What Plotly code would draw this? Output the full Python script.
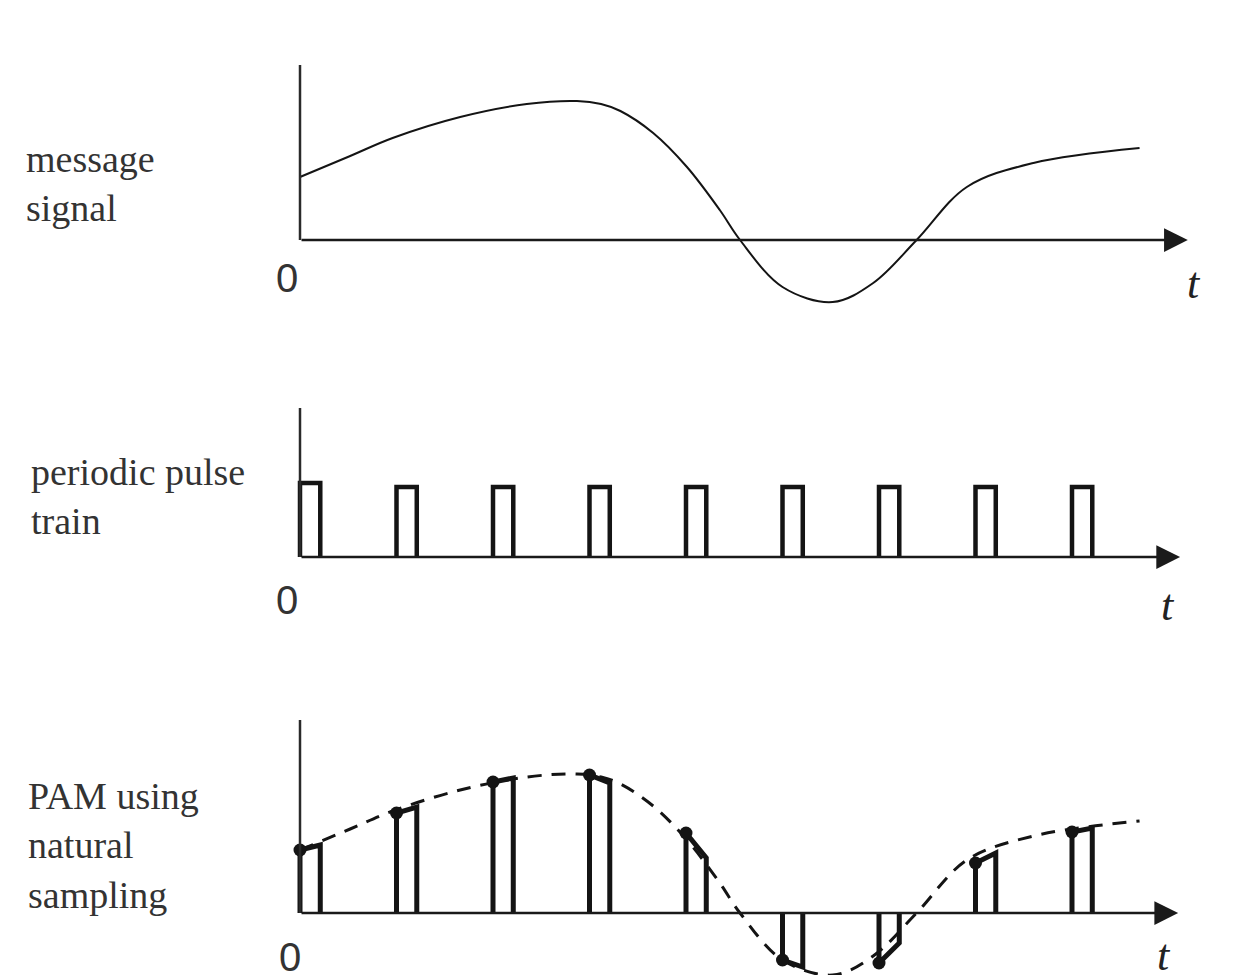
import plotly.graph_objects as go

# ---------------- data (time in pulse periods, amplitude in arbitrary units) ----------------
t_msg = [0.00, 0.52, 0.96, 1.66, 2.35, 2.87, 3.12, 3.32, 3.66, 4.01, 4.35, 4.56, 5.00, 5.52, 5.94, 6.39, 6.91, 7.60, 8.70]
m_msg = [0.63, 0.84, 1.02, 1.23, 1.36, 1.39, 1.36, 1.29, 1.07, 0.73, 0.30, 0.00, -0.47, -0.62, -0.43, 0.00, 0.53, 0.77, 0.92]

pulse_starts = [0, 1, 2, 3, 4, 5, 6, 7, 8]
pulse_width = 0.21
pulse_heights = [0.74, 0.70, 0.70, 0.70, 0.70, 0.70, 0.70, 0.70, 0.70]

pam_top_start = [0.63, 1.00, 1.31, 1.38, 0.80, -0.47, -0.50, 0.50, 0.81]
pam_top_end = [0.68, 1.06, 1.35, 1.30, 0.55, -0.54, -0.30, 0.60, 0.85]

panel_labels = ["message<br>signal", "periodic pulse<br>train", "PAM using<br>natural<br>sampling"]
origin_label = "0"
time_label = "t"

# page offset (browser body margin) compensation
OFF = 8
W, H = 1240, 975
X0 = 300 - OFF          # pixel of t = 0 inside the figure
PPU = 96.5              # pixels per pulse period


def py_(page_y):
    """paper y for a page pixel row"""
    return 1 - (page_y - OFF) / H


def px_(page_x):
    return (page_x - OFF) / W


INK = "#141414"
fig = go.Figure()

# message signal
fig.add_trace(go.Scatter(x=t_msg, y=m_msg, mode="lines", line=dict(color=INK, width=2, shape="spline", smoothing=1.0),
                         xaxis="x", yaxis="y", hoverinfo="skip"))

# periodic pulse train
px, pyv = [], []
for s, h in zip(pulse_starts, pulse_heights):
    px += [s, s, s + pulse_width, s + pulse_width, None]
    pyv += [0, h, h, 0, None]
fig.add_trace(go.Scatter(x=px, y=pyv, mode="lines", line=dict(color=INK, width=4.5),
                         xaxis="x2", yaxis="y2", hoverinfo="skip"))

# PAM dashed envelope
fig.add_trace(go.Scatter(x=t_msg, y=m_msg, mode="lines",
                         line=dict(color=INK, width=3, dash="14px,10px", shape="spline", smoothing=1.0),
                         xaxis="x3", yaxis="y3", hoverinfo="skip"))

# PAM natural-sampling pulses
qx, qy = [], []
for s, a, b in zip(pulse_starts, pam_top_start, pam_top_end):
    qx += [s, s, s + pulse_width, s + pulse_width, None]
    qy += [0, a, b, 0, None]
fig.add_trace(go.Scatter(x=qx, y=qy, mode="lines", line=dict(color=INK, width=5),
                         xaxis="x3", yaxis="y3", hoverinfo="skip"))
fig.add_trace(go.Scatter(x=pulse_starts, y=pam_top_start, mode="markers",
                         marker=dict(color=INK, size=13), xaxis="x3", yaxis="y3", hoverinfo="skip"))

# axes: vertical lines + arrows
v_tops = [1.75, 1.49, 1.93]
arrow_tips = [9.2, 9.12, 9.1]
yrefs = ["y", "y2", "y3"]
xrefs = ["x", "x2", "x3"]
shapes, annotations = [], []
for xr, yr, vt, tip in zip(xrefs, yrefs, v_tops, arrow_tips):
    shapes.append(dict(type="line", xref=xr, yref=yr, x0=0, x1=0, y0=0, y1=vt, line=dict(color="#2a2a2a", width=2.5)))
    annotations.append(dict(x=tip, y=0, ax=0, ay=0, xref=xr, yref=yr, axref=xr, ayref=yr, text="",
                            showarrow=True, arrowhead=2, arrowsize=1.9, arrowwidth=2.5, arrowcolor="#1a1a1a"))

# panel labels (page pixel positions)
label_pos = [(24, 183), (29, 497), (26, 845)]
for txt, (lx, ly) in zip(panel_labels, label_pos):
    annotations.append(dict(x=px_(lx), y=py_(ly), xref="paper", yref="paper", text=txt, showarrow=False,
                            xanchor="left", yanchor="middle", align="left",
                            font=dict(family="Liberation Serif", size=38, color="#333333")))
# origin and t labels
zero_pos = [(287, 278), (287, 600), (290, 957)]
t_pos = [(1194, 283), (1168, 605), (1164, 955)]
for (zx, zy) in zero_pos:
    annotations.append(dict(x=px_(zx), y=py_(zy), xref="paper", yref="paper", text=origin_label, showarrow=False,
                            xanchor="center", yanchor="middle",
                            font=dict(family="Liberation Sans", size=40, color="#333333")))
for (tx, ty) in t_pos:
    annotations.append(dict(x=px_(tx), y=py_(ty), xref="paper", yref="paper", text="<i>" + time_label + "</i>",
                            showarrow=False, xanchor="center", yanchor="middle",
                            font=dict(family="Liberation Serif", size=44, color="#222222")))

xr = [-X0 / PPU, (W - X0) / PPU]
ax_common = dict(visible=False, showgrid=False, zeroline=False, fixedrange=True)
fig.update_layout(
    width=W, height=H, margin=dict(l=0, r=0, t=0, b=0),
    paper_bgcolor="white", plot_bgcolor="white", showlegend=False,
    xaxis=dict(domain=[0, 1], range=xr, anchor="y", **ax_common),
    xaxis2=dict(domain=[0, 1], range=xr, anchor="y2", **ax_common),
    xaxis3=dict(domain=[0, 1], range=xr, anchor="y3", **ax_common),
    # page rows: top panel 20..330 (axis at 240), middle 380..640 (axis at 557), bottom 690..975 (axis at 913)
    yaxis=dict(domain=[py_(330), py_(20)], range=[-0.9, 2.2], anchor="x", **ax_common),
    yaxis2=dict(domain=[py_(640), py_(380)], range=[-0.83, 1.77], anchor="x2", **ax_common),
    yaxis3=dict(domain=[py_(975), py_(690)], range=[-0.62, 2.23], anchor="x3", **ax_common),
    shapes=shapes, annotations=annotations,
)

fig.write_html("out.html")
